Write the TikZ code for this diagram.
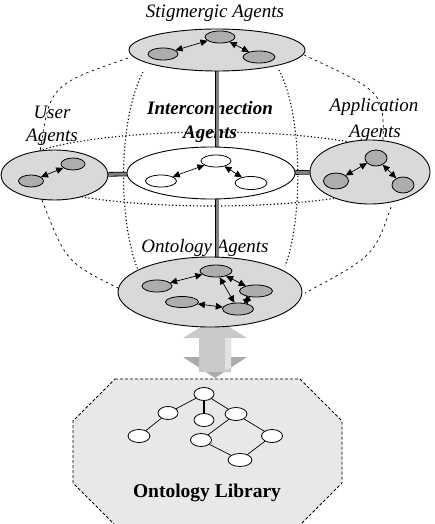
\documentclass[tikz,border=0pt]{standalone}
\usepackage{fontspec}
\setmainfont{Liberation Serif}
\usetikzlibrary{shapes.geometric,arrows.meta}
\pgfdeclarelayer{lines}
\pgfdeclarelayer{labels}
\pgfdeclarelayer{bars}
\pgfsetlayers{lines,labels,bars,main}
\tikzset{
  big/.style={ellipse, draw=black, line width=0.9pt, fill=black!15, inner sep=0pt},
  sm/.style={ellipse, draw=black, line width=0.8pt, fill=black!32, inner sep=0pt, minimum width=30pt, minimum height=12pt},
  smw/.style={sm, fill=white},
  tn/.style={ellipse, draw=black, line width=0.8pt, fill=white, inner sep=0pt, minimum width=20pt, minimum height=13pt},
  link/.style={{Triangle[length=7pt,width=6.5pt]}-{Triangle[length=7pt,width=6.5pt]}, line width=0.7pt},
  bar/.style={draw=black, line width=0.8pt, double=black!50, double distance=3pt},
  lab/.style={font=\fontsize{19}{19}\selectfont\itshape, anchor=base, inner sep=0pt},
  blab/.style={font=\fontsize{19}{19}\selectfont\bfseries\itshape, anchor=base, inner sep=0pt},
  dotln/.style={line width=1.1pt, dash pattern=on 1.2pt off 2.3pt},
  dashln/.style={line width=0.7pt, dash pattern=on 2.5pt off 3.5pt},
  edg/.style={line width=0.7pt}
}
\begin{document}
\begin{tikzpicture}[x=1pt,y=-1pt]
\useasboundingbox (0,0) rectangle (434,524);

% big agent ellipses
\node[big, minimum width=176pt, minimum height=42pt] (stig) at (217,50) {};
\node[big, minimum width=107pt, minimum height=50pt] (user) at (54.5,175) {};
\node[big, minimum width=120pt, minimum height=64pt] (app) at (370,172) {};

% block arrow to the library (behind ontology ellipse)
\fill[black!33] (183,357) -- (247,357) -- (215,378) -- cycle;
\fill[black!21] (215,318) -- (247,338) -- (231,338) -- (231,372) -- (199,372) -- (199,338) -- (183,338) -- cycle;
\fill[black!11] (225,338) -- (231,338) -- (231,368) -- (225,370) -- cycle;

\node[big, minimum width=184pt, minimum height=70pt] (onto) at (210,292) {};
\node[big, fill=white, minimum width=168pt, minimum height=52pt] (inter) at (211,173) {};

% small agents: stigmergic
\node[sm] (s1) at (163,54) {};
\node[sm] (s2) at (220,37) {};
\node[sm, minimum width=32pt] (s3) at (259,57) {};
\draw[link] (s1) -- (s2);
\draw[link] (s2) -- (s3);

% user
\node[sm, minimum width=24pt] (u1) at (73,164) {};
\node[sm, minimum width=25pt] (u2) at (31,181) {};
\draw[link] (u1) -- (u2);

% application
\node[sm, minimum width=22pt, minimum height=16pt] (a1) at (376,158) {};
\node[sm, minimum width=25pt, minimum height=16pt] (a2) at (336,181) {};
\node[sm, minimum width=22pt, minimum height=16pt] (a3) at (403,185) {};
\draw[link] (a1) -- (a2);
\draw[link] (a1) -- (a3);

% interconnection
\node[smw, minimum width=31pt] (i1) at (161,181) {};
\node[smw] (i2) at (216,161) {};
\node[smw, minimum width=32pt, minimum height=13pt] (i3) at (251,183) {};
\draw[link] (i1) -- (i2);
\draw[link] (i2) -- (i3);

% ontology
\node[sm, minimum width=32pt] (o1) at (216,271) {};
\node[sm] (o2) at (157,286) {};
\node[sm, minimum width=33pt] (o3) at (256,291) {};
\node[sm, minimum width=33pt, minimum height=11pt] (o4) at (182,302) {};
\node[sm, minimum width=31pt] (o5) at (238,309) {};
\draw[link] (o2) -- (o1);
\draw[link] (o1) -- (o3);
\draw[link] (o1) -- (o5);
\draw[link] (o3) -- (o5);
\draw[link] (o5) -- (o4);

% connecting bars and sphere lines
\begin{pgfonlayer}{bars}
\draw[bar] (stig.south) -- (stig.south |- onto.north);
\draw[bar] (user) -- (inter);
\draw[bar] (inter) -- (app);
\end{pgfonlayer}

\begin{pgfonlayer}{lines}
\draw[dotln] (213,169) ellipse [x radius=200, y radius=37];
\draw[dotln] (143,72) .. controls (118,120) and (118,220) .. (138,270);
\draw[dotln] (279,70) .. controls (303,115) and (303,220) .. (285,266);
\draw[dashln] (128,58) .. controls (50,85) .. (40,152);
\draw[dashln] (42,200) .. controls (66,262) .. (118,288);
\draw[dashln] (304,55) .. controls (384,92) .. (383,142);
\draw[dashln] (391,207) .. controls (374,256) .. (305,293);
\end{pgfonlayer}

% labels
\begin{pgfonlayer}{labels}
\node[lab] (tStig) at (215,18) {Stigmergic Agents};
\node[lab] (tUser1) at (52,118) {User};
\node[lab] (tUser2) at (52,141) {Agents};
\node[lab] (tApp1) at (374,111) {Application};
\node[lab] (tApp2) at (375,137) {Agents};
\node[blab] (tInt1) at (210,114) {Interconnection};
\node[blab] (tInt2) at (210,138) {Agents};
\node[lab] (tOnto) at (205,252) {Ontology Agents};
\end{pgfonlayer}

% ontology library
\draw[dashln, line width=0.8pt, dash pattern=on 3pt off 2pt, fill=black!9]
  (115,379) -- (300,379) -- (342,421) -- (342,483) -- (300,525) -- (115,525) -- (73,483) -- (73,421) -- cycle;
\node[tn] (r) at (204,394) {};
\node[tn] (ta) at (168,413) {};
\node[tn] (tb) at (204,420) {};
\node[tn, minimum width=22pt] (tc) at (236,414) {};
\node[tn, minimum width=22pt] (td) at (139,436) {};
\node[tn, minimum width=21pt] (te) at (201,440) {};
\node[tn, minimum width=21pt] (tf) at (272,436) {};
\node[tn, minimum width=24pt] (tg) at (240,460) {};
\draw[edg] (r) -- (ta);
\draw[line width=1.4pt] (r) -- (tb);
\draw[edg] (r) -- (tc);
\draw[edg] (ta) -- (td);
\draw[edg] (tc) -- (te);
\draw[edg] (tc) -- (tf);
\draw[edg] (te) -- (tg);
\draw[edg] (tf) -- (tg);
\node[font=\fontsize{19.5}{19.5}\selectfont\bfseries, anchor=base, inner sep=0pt] (tLib) at (207,497) {Ontology Library};
\end{tikzpicture}
\end{document}
